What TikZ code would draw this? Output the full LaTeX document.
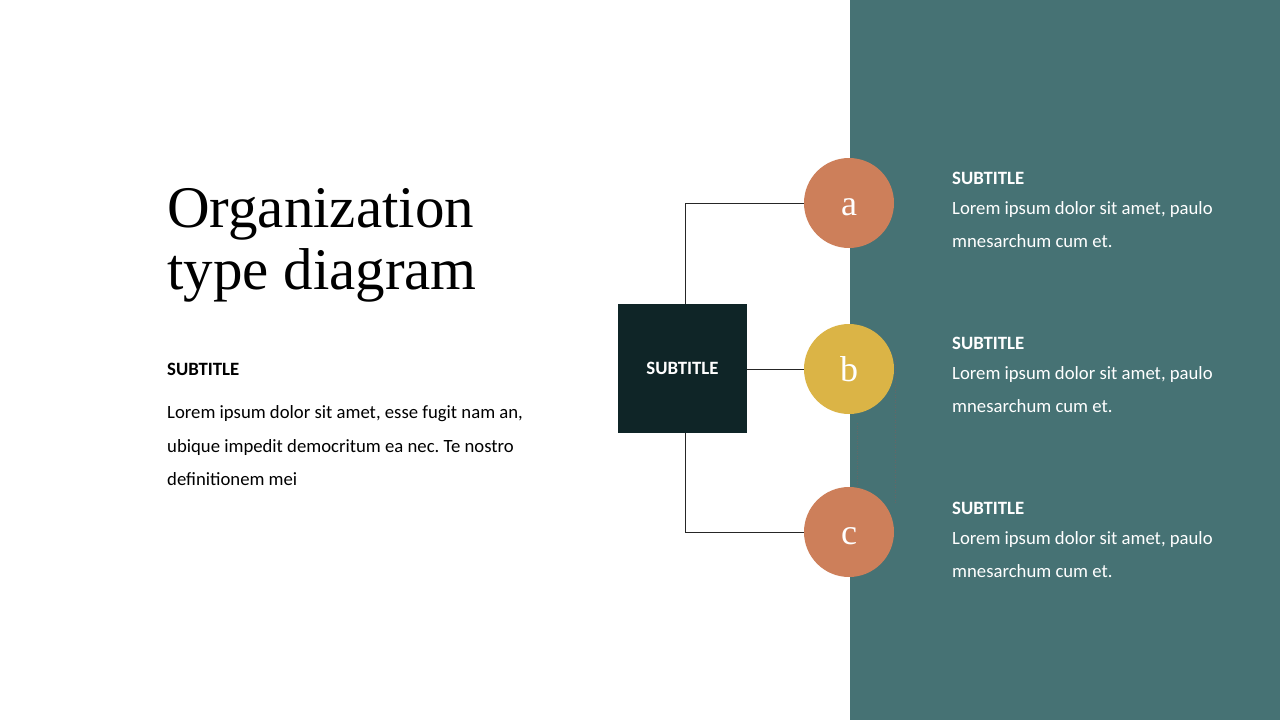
\documentclass[tikz,border=0pt]{standalone}
\usepackage{fontspec}
\setmainfont{Carlito}
\newfontfamily\titlefont{Liberation Serif}
\definecolor{teal}{HTML}{467274}
\definecolor{orng}{HTML}{CD7F5A}
\definecolor{yel}{HTML}{DBB446}
\definecolor{dark}{HTML}{0F2527}
\frenchspacing
\newcommand\circletter[1]{\raisebox{-12pt}[0pt][0pt]{#1}}
\begin{document}
\begin{tikzpicture}[x=1pt,y=-1pt,
  bub/.style={circle,minimum size=90pt,inner sep=0pt,text=white,font=\titlefont\fontsize{36}{36}\selectfont},
  conn/.style={draw=black!85,line width=0.9pt},
  body/.style={anchor=base west,inner sep=0pt,font=\fontsize{18.7}{18.7}\selectfont},
  sub/.style={anchor=base west,inner sep=0pt,font=\bfseries\fontsize{18.8}{18.8}\selectfont},
  ttl/.style={anchor=base west,inner sep=0pt,font=\titlefont\fontsize{59}{59}\selectfont}]
\useasboundingbox (0,0) rectangle (1280,720);
\fill[white] (0,0) rectangle (1280,720);
\fill[teal] (850,0) rectangle (1280,720);
% faint dotted guides
\draw[black!60,dotted,line width=0.5pt] (857,423) -- (857,488);
\draw[black!60,dotted,line width=0.5pt] (895,357) -- (895,503);
% center box
\node[fill=dark,minimum size=129pt,inner sep=0pt,text=white,font=\bfseries\fontsize{18.8}{18.8}\selectfont] (sq) at (682.5,368.5) {SUBTITLE};
\node[bub,fill=orng] (a) at (849,203) {\circletter{a}};
\node[bub,fill=yel] (b) at (849,369) {\circletter{b}};
\node[bub,fill=orng] (c) at (849,532) {\circletter{c}};
\coordinate (ta) at (685,203);
\coordinate (tc) at (685,532);
\draw[conn] (sq.north -| ta) -- (ta) -- (a.west);
\draw[conn] (sq.east |- b) -- (b.west);
\draw[conn] (sq.south -| tc) -- (tc) -- (c.west);
% title
\node[ttl] (t1) at (167,227) {Organization};
\node[ttl] (t2) at (167,289) {type diagram};
\node[sub] (ls) at (167,375) {SUBTITLE};
\node[body] (l1) at (167,418) {Lorem ipsum dolor sit amet, esse fugit nam an,};
\node[body] (l2) at (167,452) {ubique impedit democritum ea nec. Te nostro};
\node[body] (l3) at (167,485) {definitionem mei};
% right texts
\foreach \y/\n in {184/ra,349/rb,514/rc}{
  \node[sub,text=white] (\n s) at (952,\y) {SUBTITLE};
  \node[body,text=white] (\n 1) at (952,\y+30) {Lorem ipsum dolor sit amet, paulo};
  \node[body,text=white] (\n 2) at (952,\y+63) {mnesarchum cum et.};
}
\end{tikzpicture}
\end{document}
